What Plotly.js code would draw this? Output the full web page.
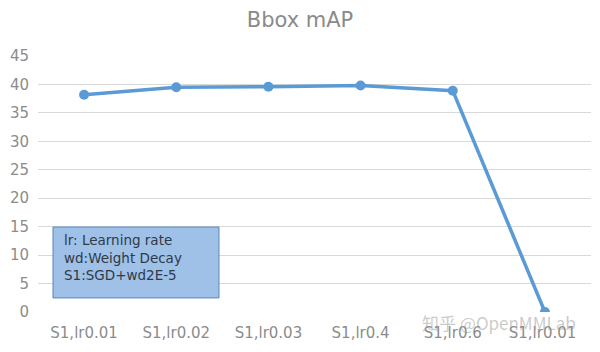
<!DOCTYPE html>
<html>
<head>
<meta charset="utf-8">
<script src="https://cdn.plot.ly/plotly-3.0.1.min.js"></script>
<style>html,body{margin:0;padding:0;background:#fff;}#chart{width:600px;height:352px;}</style>
</head>
<body>
<div id="chart"></div>
<script>
var categories = ["S1,lr0.01", "S1,lr0.02", "S1,lr0.03", "S1,lr0.4", "S1,lr0.6", "S1,lr0.01 "];
var mapValues = [38.2, 39.5, 39.6, 39.8, 38.9, 0];
var yTicks = [0, 5, 10, 15, 20, 25, 30, 35, 40, 45];
var noteLines = ["lr: Learning rate", "wd:Weight Decay", "S1:SGD+wd2E-5"];

var trace = {
  x: categories,
  y: mapValues,
  type: "scatter",
  mode: "lines+markers",
  line: {color: "#5b9bd5", width: 3.5},
  marker: {color: "#5b9bd5", size: 10},
  hoverinfo: "skip"
};

var layout = {
  width: 600, height: 352,
  margin: {l: 38, r: 9, t: 56, b: 40},
  paper_bgcolor: "#ffffff",
  plot_bgcolor: "#ffffff",
  font: {family: "DejaVu Sans, sans-serif", color: "#8c8c8c"},
  title: {text: "Bbox mAP", x: 0.5, xanchor: "center", y: 0.945, yanchor: "middle",
          font: {size: 21, color: "#8a8a8a", family: "DejaVu Sans, sans-serif"}},
  showlegend: false,
  xaxis: {
    type: "category",
    range: [-0.5, 5.5],
    showgrid: false, zeroline: false, showline: false,
    ticks: "", tickfont: {size: 15, color: "#8c8c8c"},
    ticklabelstandoff: 10,
    fixedrange: true
  },
  yaxis: {
    range: [0, 45],
    tickvals: yTicks,
    showgrid: true, gridcolor: "#d9d9d9", gridwidth: 1,
    zeroline: false, showline: false, ticks: "",
    tickfont: {size: 15, color: "#8c8c8c"},
    ticklabelstandoff: 8,
    fixedrange: true
  },
  shapes: [{
    type: "rect", xref: "paper", yref: "paper",
    x0: 0.0271, x1: 0.3273, y0: 0.055, y1: 0.332,
    fillcolor: "#9fc0e7", line: {color: "#5a86bd", width: 1},
    layer: "above"
  }],
  annotations: [{
    xref: "paper", yref: "paper",
    x: 0.044, y: 0.322, xanchor: "left", yanchor: "top",
    text: noteLines.join("<br>"),
    align: "left", showarrow: false,
    font: {size: 13.5, color: "#2f3a48", family: "DejaVu Sans, sans-serif"}
  }, {
    xref: "paper", yref: "paper",
    x: 0.69, y: -0.04, xanchor: "left", yanchor: "middle",
    text: "知乎 @OpenMMLab",
    showarrow: false,
    font: {size: 17, color: "rgba(150,150,150,0.5)", family: "Noto Sans CJK SC, sans-serif"}
  }]
};

Plotly.newPlot("chart", [trace], layout, {displayModeBar: false, staticPlot: true});
</script>
</body>
</html>
